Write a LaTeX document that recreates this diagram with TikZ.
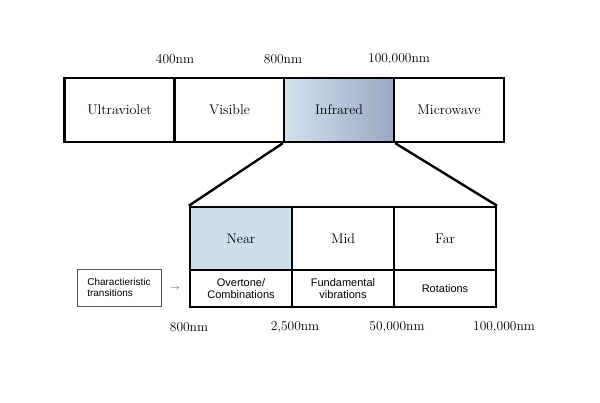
\documentclass[tikz,border=0pt]{standalone}
\usepackage{fontspec}
\setsansfont{Liberation Sans}
\usepackage{xcolor}
\usepackage{tikz}
\usetikzlibrary{calc,positioning}
\definecolor{irleft}{HTML}{D2E2EE}
\definecolor{irright}{HTML}{9AA8C3}
\definecolor{nearx}{HTML}{CCDFEB}
\definecolor{greyx}{HTML}{555555}
\tikzset{
  band/.style={draw,line width=2.4pt,minimum width=110pt,minimum height=64pt,inner sep=0pt,font=\fontsize{14}{16}\selectfont},
  sub/.style={draw,line width=2.4pt,minimum width=102pt,minimum height=63pt,inner sep=0pt,font=\fontsize{14}{16}\selectfont},
  trans/.style={draw,line width=2.4pt,minimum width=102pt,minimum height=37pt,inner sep=0pt,align=center,font=\sffamily\fontsize{11}{12.5}\selectfont},
  nm/.style={font=\fontsize{13.5}{15}\selectfont,inner sep=0pt},
  zoomln/.style={line width=2.4pt}
}
\begin{document}
\begin{tikzpicture}[x=1pt,y=-1pt]
\useasboundingbox[fill=white] (0,0) rectangle (600,403);
% spectrum bands
\node[band] (uv) at (119.5,110) {Ultraviolet};
\node[band] (vis) at (229.5,110) {Visible};
\node[band,left color=irleft,right color=irright] (ir) at (339,110) {Infrared};
\node[band] (mw) at (449,110) {Microwave};
\node[nm] (l400) at (175,59) {400nm};
\node[nm] (l800) at (283,59) {800nm};
\node[nm] (l1e5) at (399,59) {100,000nm};
% infrared regions
\node[sub,fill=nearx] (near) at (241,238.5) {Near};
\node[sub] (mid) at (343,238.5) {Mid};
\node[sub] (far) at (445,238.5) {Far};
\node[trans] (ovt) at (241,288.5) {Overtone/\\Combinations};
\node[trans] (fund) at (343,288.5) {Fundamental\\vibrations};
\node[trans] (rot) at (445,288.5) {Rotations};
\draw[zoomln] (ir.south west) -- (near.north west);
\draw[zoomln] (ir.south east) -- (far.north east);
% legend
\node[draw=greyx,line width=0.8pt,minimum width=84pt,minimum height=37pt,align=left,inner sep=2pt,font=\sffamily\fontsize{10}{11.5}\selectfont] (chr) at (119,287.5) {Charactieristic\\transitions};
\node[text=greyx,font=\small] (arr) at (175,289) {$\rightarrow$};
\node[nm] (b800) at (189,327) {800nm};
\node[nm] (b2500) at (295,327) {2,500nm};
\node[nm] (b5e4) at (397,327) {50,000nm};
\node[nm] (b1e5) at (504,327) {100,000nm};
\end{tikzpicture}
\end{document}
